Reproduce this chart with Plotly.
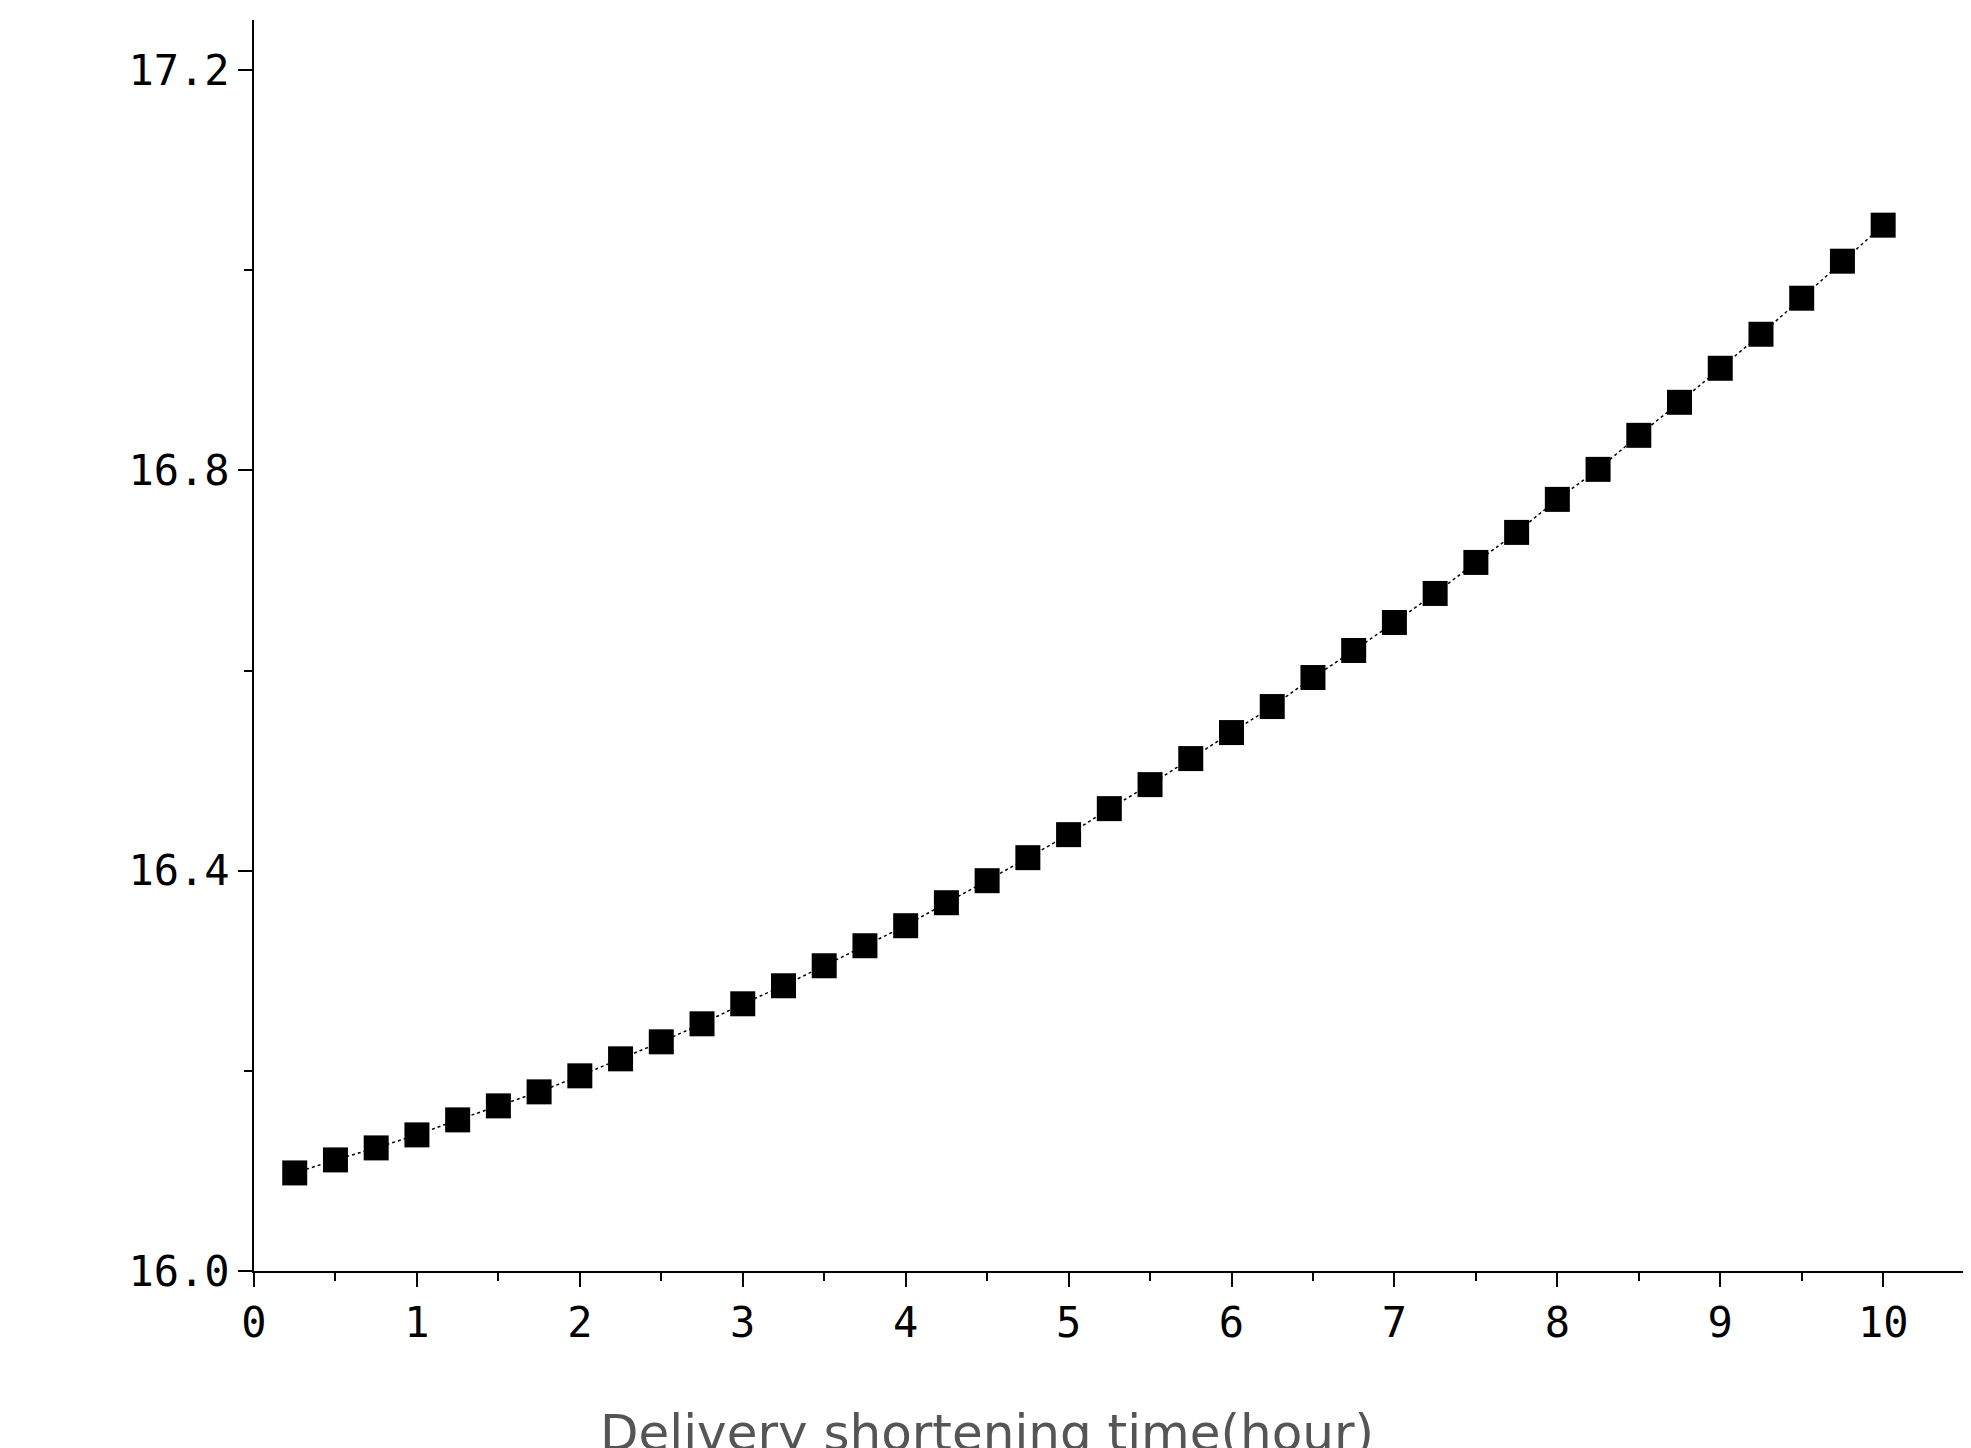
import plotly.graph_objects as go

hours = [0.25,0.5,0.75,1.0,1.25,1.5,1.75,2.0,2.25,2.5,2.75,3.0,3.25,3.5,3.75,4.0,4.25,4.5,4.75,5.0,
         5.25,5.5,5.75,6.0,6.25,6.5,6.75,7.0,7.25,7.5,7.75,8.0,8.25,8.5,8.75,9.0,9.25,9.5,9.75,10.0]
price = [16.098,16.111,16.123,16.136,16.151,16.165,16.179,16.195,16.212,16.229,16.247,16.267,16.285,16.305,
         16.325,16.345,16.368,16.390,16.413,16.436,16.462,16.486,16.512,16.538,16.564,16.593,16.620,16.648,
         16.677,16.708,16.738,16.771,16.801,16.835,16.868,16.902,16.936,16.972,17.009,17.045]

fig = go.Figure(go.Scatter(x=hours, y=price, mode="lines+markers",
    line=dict(color="black", width=1.5, dash="dot"),
    marker=dict(symbol="square", size=25, color="black")))

tickfont = dict(family="DejaVu Sans Mono", size=42, color="black")
titlefont = dict(family="DejaVu Sans", size=50, color="#555")
fig.update_layout(
    width=1971, height=1448, plot_bgcolor="white", paper_bgcolor="white",
    margin=dict(l=246, r=16, t=12, b=185), showlegend=False,
    xaxis=dict(range=[0, 10.49], tickvals=list(range(11)), showgrid=False, zeroline=False,
               showline=True, linecolor="black", linewidth=2, ticks="outside", ticklen=14,
               tickwidth=2, tickcolor="black", tickfont=tickfont,
               minor=dict(dtick=0.5, ticks="outside", ticklen=8, tickwidth=2, tickcolor="black")),
    yaxis=dict(range=[16.0, 17.25], tickvals=[16.0,16.4,16.8,17.2], ticktext=["16.0","16.4","16.8","17.2"],
               showgrid=False, zeroline=False, showline=True, linecolor="black", linewidth=2,
               ticks="outside", ticklen=14, tickwidth=2, tickcolor="black", tickfont=tickfont,
               minor=dict(dtick=0.2, ticks="outside", ticklen=8, tickwidth=2, tickcolor="black")),
    annotations=[
        dict(text="Delivery shortening time(hour)", xref="x", yref="paper", x=4.5, y=-0.105,
             xanchor="center", yanchor="top", showarrow=False, font=titlefont),
        dict(text="Distribution pricing(RMB)", xref="paper", yref="y", x=-0.205, y=16.6,
             xanchor="left", yanchor="middle", textangle=-90, showarrow=False, font=titlefont),
    ],
)
fig.write_html("out.html")
